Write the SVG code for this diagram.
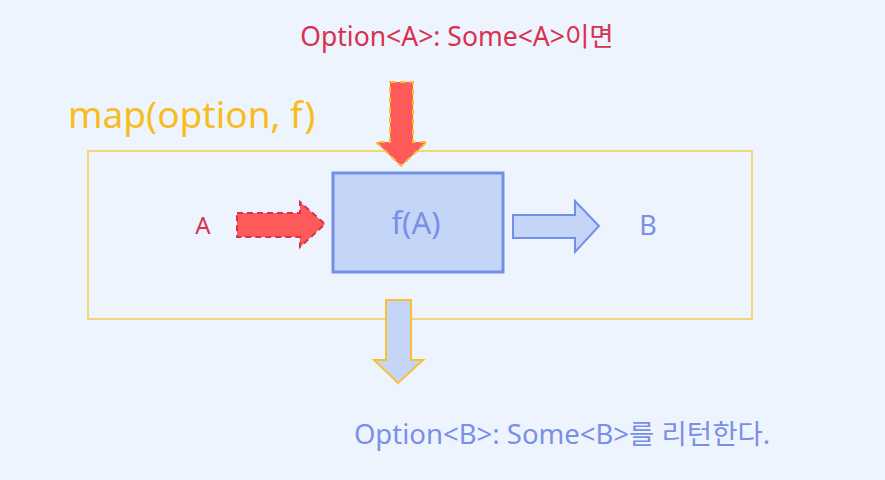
<svg xmlns="http://www.w3.org/2000/svg" width="885" height="480" viewBox="0 0 885 480">
<style>
text{font-family:"Noto Sans","Noto Sans CJK KR",sans-serif}
.red{fill:#d8314f}.blue{fill:#7a8fe6}
.ra{fill:#fe5a5a;stroke:#fac030;stroke-width:2;stroke-dasharray:6 4}
.la{fill:#fe5a5a;stroke:#d8314f;stroke-width:2;stroke-dasharray:6 4}
.ba{fill:#c5d5f8;stroke:#7090ea;stroke-width:2}
.ya{fill:#c5d5f8;stroke:#fac030;stroke-width:2}
</style>
<rect width="885" height="480" fill="#eef4fe"/>
<g id="frame"><rect x="88" y="151" width="664" height="168" fill="none" stroke="#f4cd4c" stroke-width="1.5"/>
<text x="68" y="128" font-size="37" fill="#f8bd1c">map(option, f)</text></g>
<g id="top"><text x="457" y="46" font-size="26.5" text-anchor="middle" class="red">Option&lt;A&gt;: Some&lt;A&gt;이면</text></g>
<g id="fa"><rect x="333" y="173" width="170" height="99" fill="#c5d5f8" stroke="#7090ea" stroke-width="3"/>
<text x="416" y="234" font-size="31" text-anchor="middle" class="blue">f(A)</text></g>
<g id="a"><text x="203" y="234" font-size="24" text-anchor="middle" class="red">A</text></g>
<g id="b"><text x="648" y="235" font-size="27" text-anchor="middle" class="blue">B</text></g>
<g id="bottom"><text x="562" y="444" font-size="27.5" text-anchor="middle" class="blue">Option&lt;B&gt;: Some&lt;B&gt;를 리턴한다.</text></g>
<g id="connectors">
<path class="ra" d="M390 82H413V142H427L401 166L376 142H390Z"/>
<path class="la" d="M237 213H300V202L325 224L300 247V237H237Z"/>
<path class="ba" d="M513 215H575V201L599 226L575 252V238H513Z"/>
<path class="ya" d="M386 300H411V360H423L398 383L374 360H386Z"/>
</g>
</svg>
